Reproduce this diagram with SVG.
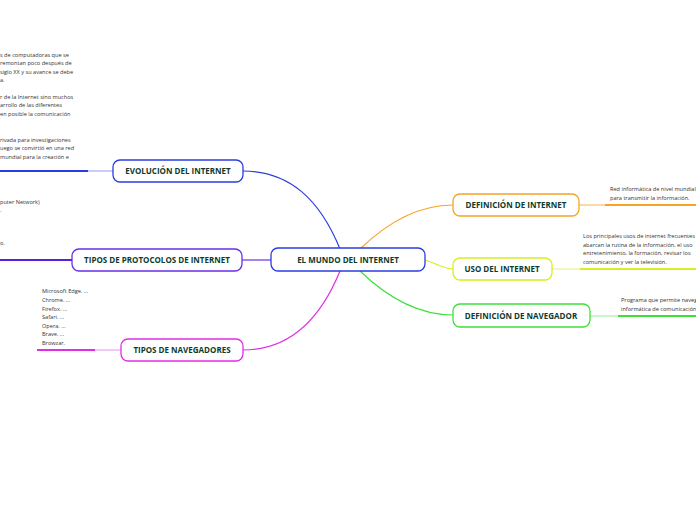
<svg xmlns="http://www.w3.org/2000/svg" width="696" height="520" viewBox="0 0 696 520">
<style>
text{font-family:"Open Sans","Noto Sans",sans-serif;}
.n{font-size:8px;font-weight:bold;fill:#0d3b2e;text-anchor:middle}
.t{font-size:5.6px;fill:#333}
.b{fill:#fff;stroke-width:1.3}
path{fill:none}
</style>
<rect width="696" height="520" fill="#fff"/>
<g id="connectors" stroke-width="1.2">
<path d="M340 249 C320 200 290 171 243 171" stroke="#2a3de0"/>
<path d="M271 260 L242 260" stroke="#6a2ee8"/>
<path d="M340 271 C320 320 290 350 243 350" stroke="#e02ee8"/>
<path d="M360 249 C390 220 420 205 453 205" stroke="#f7a325"/>
<path d="M425 260 C440 265 445 269 453 269" stroke="#d8ee22"/>
<path d="M360 271 C390 300 420 315 453 315" stroke="#3ee03a"/>
<path d="M113 171 L88 171" stroke="#c9ccf6" stroke-width="2"/>
<path d="M88 171 L0 171" stroke="#2a3de0" stroke-width="2"/>
<path d="M72 260 L0 260" stroke="#5a1ee0" stroke-width="2"/>
<path d="M121 350 L95 350" stroke="#f2c8f6" stroke-width="2"/>
<path d="M95 350 L37 350" stroke="#e02ee8" stroke-width="2"/>
<path d="M579 205 L605 205" stroke="#fbd9a6" stroke-width="2"/>
<path d="M605 205 L696 205" stroke="#f7a325" stroke-width="2"/>
<path d="M552 269 L580 269" stroke="#f0f8c0" stroke-width="2"/>
<path d="M580 269 L696 269" stroke="#d8ee22" stroke-width="2"/>
<path d="M590 316 L618 316" stroke="#c8f6c6" stroke-width="2"/>
<path d="M618 316 L696 316" stroke="#3ee03a" stroke-width="2"/>
</g>
<g id="central"><rect class="b" x="271" y="248" width="154" height="23" rx="7" stroke="#2a3de0"/><text class="n" x="348" y="263" font-size="8.5">EL MUNDO DEL INTERNET</text></g>
<g id="evolucion"><rect class="b" x="113" y="160" width="130" height="22" rx="7" stroke="#2a3de0"/><text class="n" x="178" y="174">EVOLUCIÓN DEL INTERNET</text>
<text class="t" x="0" y="57">s de computadoras que se</text><text class="t" x="0" y="65">remontan poco después de</text><text class="t" x="0" y="74">siglo XX y su avance se debe</text><text class="t" x="0" y="82">a.</text>
<text class="t" x="0" y="99">r de la Internet sino muchos</text><text class="t" x="0" y="107">arrollo de las diferentes</text><text class="t" x="0" y="116">en posible la comunicación</text>
<text class="t" x="0" y="142">rivada para investigaciones</text><text class="t" x="0" y="150">uego se convirtió en una red</text><text class="t" x="0" y="159">mundial para la creación e</text></g>
<g id="protocolos"><rect class="b" x="72" y="249" width="170" height="22" rx="7" stroke="#6a2ee8"/><text class="n" x="157" y="263">TIPOS DE PROTOCOLOS DE INTERNET</text>
<text class="t" x="0" y="204">puter Network)</text><text class="t" x="0" y="212">.</text><text class="t" x="0" y="245">o.</text></g>
<g id="navegadores"><rect class="b" x="121" y="339" width="122" height="22" rx="7" stroke="#e02ee8"/><text class="n" x="182" y="353">TIPOS DE NAVEGADORES</text>
<text class="t" x="42" y="293">Microsoft Edge. ...</text><text class="t" x="42" y="302">Chrome. ...</text><text class="t" x="42" y="311">Firefox. ...</text><text class="t" x="42" y="319">Safari. ...</text><text class="t" x="42" y="328">Opera. ...</text><text class="t" x="42" y="336">Brave. ...</text><text class="t" x="42" y="345">Browzar.</text></g>
<g id="definicion"><rect class="b" x="453" y="194" width="126" height="22" rx="7" stroke="#f7a325"/><text class="n" x="516" y="208">DEFINICIÓN DE INTERNET</text>
<text class="t" x="610" y="191">Red informática de nivel mundial</text><text class="t" x="610" y="200">para transmitir la información.</text></g>
<g id="uso"><rect class="b" x="453" y="258" width="99" height="22" rx="7" stroke="#d8ee22"/><text class="n" x="502" y="272">USO DEL INTERNET</text>
<text class="t" x="583" y="238">Los principales usos de internet frecuentes</text><text class="t" x="583" y="247">abarcan la rutina de la información, el uso</text><text class="t" x="583" y="255">entretenimiento, la formación, revisar los</text><text class="t" x="583" y="264">comunicación y ver la televisión.</text></g>
<g id="navegador"><rect class="b" x="453" y="304" width="137" height="23" rx="7" stroke="#3ee03a"/><text class="n" x="521" y="319">DEFINICIÓN DE NAVEGADOR</text>
<text class="t" x="621" y="302">Programa que permite navegar</text><text class="t" x="621" y="311">informática de comunicación</text></g>
</svg>
